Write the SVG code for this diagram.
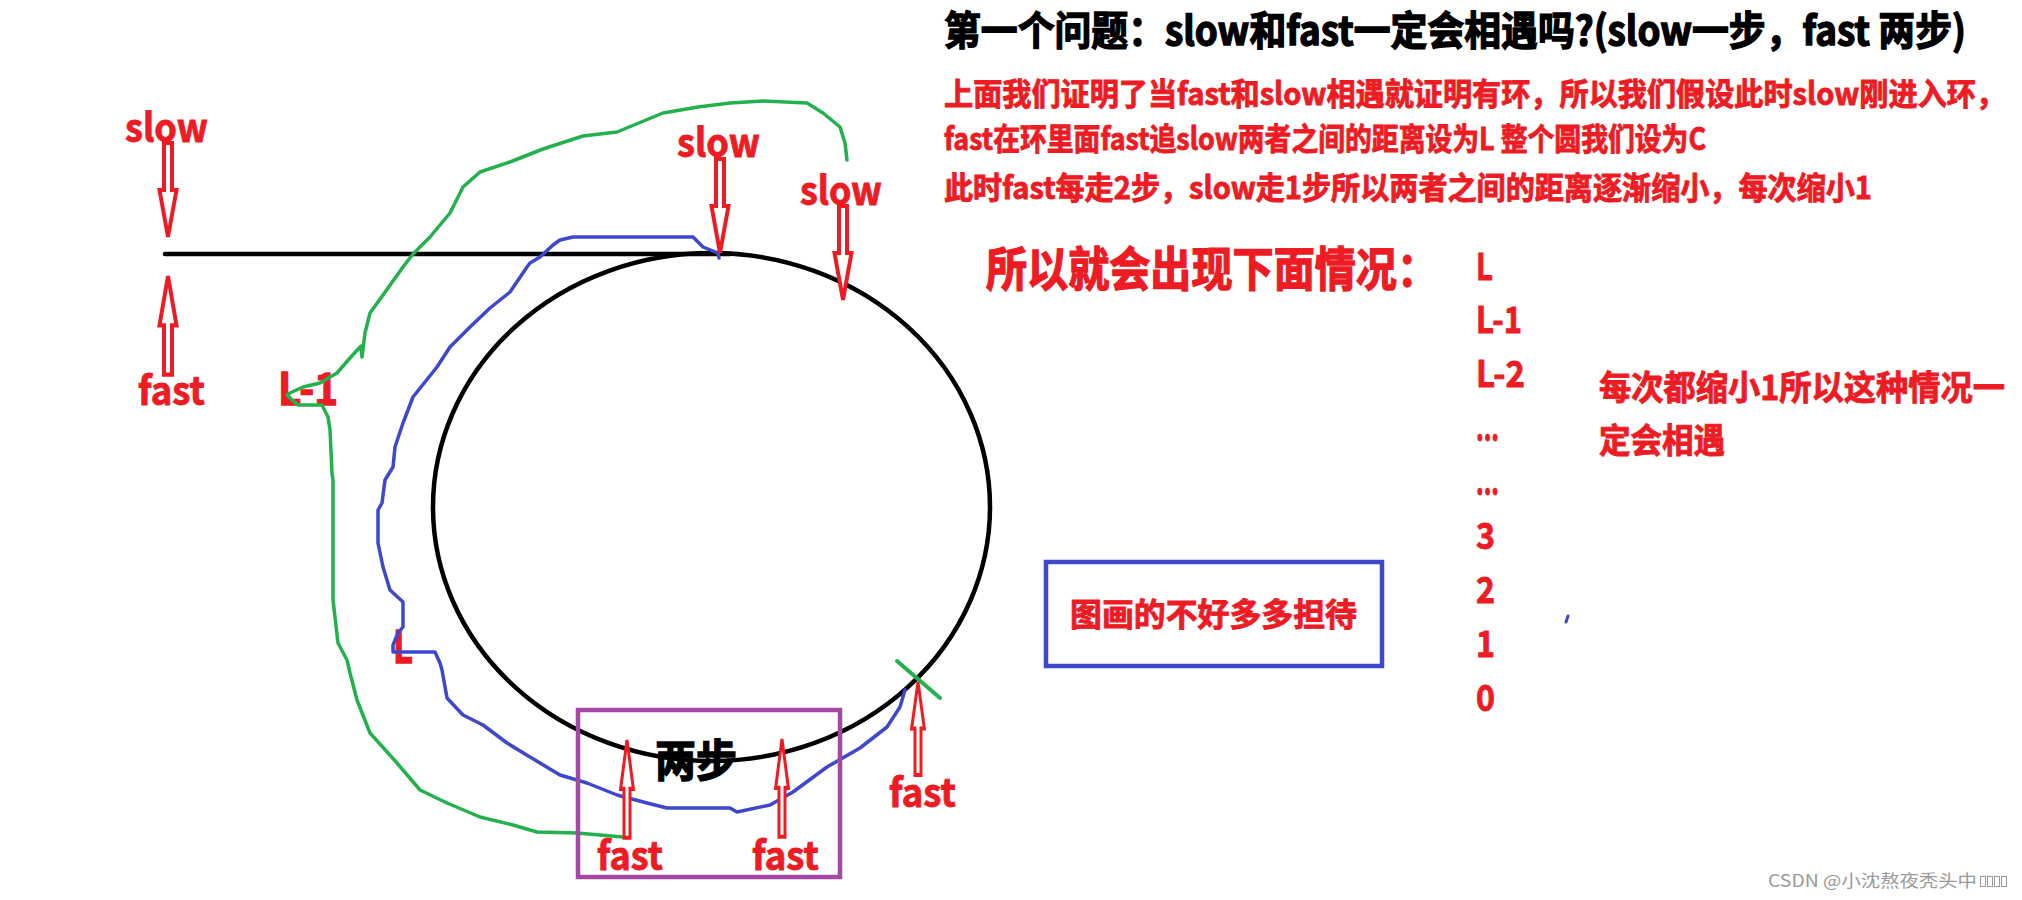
<svg xmlns="http://www.w3.org/2000/svg" width="2022" height="900" viewBox="0 0 2022 900">
<style>
  text { font-family: "Noto Sans CJK SC", "Noto Sans", sans-serif; font-weight: bold; }
  .red { fill: #ed1c24; stroke: #ed1c24; stroke-width: 0.9; }
  .blk { fill: #000000; stroke: #000000; stroke-width: 0.9; }
  .big { stroke-width: 1.4; }
  .arrow { fill: #ffffff; stroke: #ed1c24; stroke-width: 4; stroke-linejoin: miter; }
  .green { fill: none; stroke: #22b14c; stroke-width: 3.5; stroke-linejoin: round; stroke-linecap: round; }
  .blue { fill: none; stroke: #3f48cc; stroke-width: 3.5; stroke-linejoin: round; stroke-linecap: round; }
</style>
<defs>
  <path id="arr" d="M-4,-94 H4 V-47 H8.5 L0,0 L-8.5,-47 H-4 Z"/>
</defs>
<rect width="2022" height="900" fill="#ffffff"/>

<g id="ring">
  <ellipse cx="711.5" cy="507" rx="278.5" ry="254" fill="none" stroke="#000" stroke-width="4.5"/>
  <line x1="165" y1="254" x2="730" y2="254" stroke="#000" stroke-width="4.5" stroke-linecap="round"/>
</g>

<g id="labels-left">
  <text class="red" x="125" y="142" font-size="39" textLength="83" lengthAdjust="spacingAndGlyphs">slow</text>
  <text class="red" x="138" y="405" font-size="39" textLength="67" lengthAdjust="spacingAndGlyphs">fast</text>
  <text class="red big" x="278" y="405" font-size="44" textLength="60" lengthAdjust="spacingAndGlyphs">L-1</text>
  <text class="red big" x="393" y="663" font-size="44" textLength="20" lengthAdjust="spacingAndGlyphs">L</text>
  <text class="red" x="677" y="157" font-size="39" textLength="83" lengthAdjust="spacingAndGlyphs">slow</text>
  <text class="red" x="800" y="205" font-size="39" textLength="82" lengthAdjust="spacingAndGlyphs">slow</text>
  <text class="red" x="597" y="870" font-size="39" textLength="66" lengthAdjust="spacingAndGlyphs">fast</text>
  <text class="red" x="752" y="870" font-size="39" textLength="67" lengthAdjust="spacingAndGlyphs">fast</text>
  <text class="red" x="889" y="807" font-size="39" textLength="67" lengthAdjust="spacingAndGlyphs">fast</text>
  <text class="blk big" x="655" y="777" font-size="44" textLength="82" lengthAdjust="spacingAndGlyphs">两步</text>
</g>

<g id="connectors">
  <path id="green-path" class="green" d="M847,160 L845,143 L840,127 L823,113 L807,103 L763,101 L730,103 L698,107 L663,113 L617,132 L583,136 L543,149 L510,162 L480,172 L463,187 L450,213 L430,237 L413,254 L403,267 L383,295 L370,313 L365,333 L362,357 L361,346 L350,358 L337,373 L320,383 L303,387 L290,393 L287,395 L292,400 L298,405 L322,405 L328,417 L330,430 L332,473 L333,480 L333,600 L335,617 L338,643 L347,660 L350,673 L357,700 L370,733 L397,763 L420,790 L447,803 L480,817 L513,825 L537,832 L577,833 L623,837"/>
  <path id="blue-path" class="blue" d="M719,258 L718,253 L703,247 L693,237 L573,237 L560,240 L553,245 L540,257 L530,263 L527,267 L510,292 L490,308 L470,327 L450,347 L437,367 L413,397 L403,423 L395,447 L393,467 L385,480 L382,503 L378,510 L378,543 L383,567 L390,590 L403,602 L403,627 L398,633 L393,645 L393,652 L407,652 L435,652 L440,663 L442,670 L447,698 L463,715 L483,725 L507,743 L530,757 L560,775 L587,783 L617,795 L647,803 L667,808 L730,808 L737,812 L770,805 L793,792 L827,767 L860,748 L887,727 L900,707 L905,690"/>
  <line id="green-mark" x1="897" y1="661" x2="940" y2="698" stroke="#22b14c" stroke-width="4" stroke-linecap="round"/>
  <path id="blue-dot" d="M1566,622 L1568,616" stroke="#3f48cc" stroke-width="3" stroke-linecap="round"/>
</g>

<g id="arrows">
  <use href="#arr" class="arrow" transform="translate(168,237)"/>
  <use href="#arr" class="arrow" transform="translate(720,253)"/>
  <use href="#arr" class="arrow" transform="translate(843,300)"/>
  <use href="#arr" class="arrow" transform="translate(168,276) scale(1,-1.05)" vector-effect="non-scaling-stroke"/>
  <use href="#arr" class="arrow" transform="translate(627,740) scale(0.75,-1.04)" vector-effect="non-scaling-stroke"/>
  <use href="#arr" class="arrow" transform="translate(782,739) scale(0.75,-1.04)" vector-effect="non-scaling-stroke"/>
  <use href="#arr" class="arrow" transform="translate(918,682) scale(0.75,-0.99)" vector-effect="non-scaling-stroke"/>
</g>

<g id="two-steps-box">
  <rect x="578" y="710" width="262" height="167" fill="none" stroke="#a349a4" stroke-width="4.5"/>
</g>

<g id="explanation">
  <text class="blk big" transform="translate(944,45) scale(0.924,1)" x="0" y="0" font-size="40" textLength="1106" lengthAdjust="spacingAndGlyphs">第一个问题：slow和fast一定会相遇吗?(slow一步，fast 两步)</text>
  <text class="red" transform="translate(944,105) scale(0.944,1)" x="0" y="0" font-size="31" textLength="1124" lengthAdjust="spacingAndGlyphs">上面我们证明了当fast和slow相遇就证明有环，所以我们假设此时slow刚进入环，</text>
  <text class="red" x="944" y="150" font-size="31" textLength="762" lengthAdjust="spacingAndGlyphs">fast在环里面fast追slow两者之间的距离设为L 整个圆我们设为C</text>
  <text class="red" x="944" y="199" font-size="31" textLength="928" lengthAdjust="spacingAndGlyphs">此时fast每走2步，slow走1步所以两者之间的距离逐渐缩小，每次缩小1</text>
</g>

<g id="cases">
  <text class="red big" transform="translate(986,286) scale(0.875,1)" x="0" y="0" font-size="47" textLength="516.6" lengthAdjust="spacingAndGlyphs">所以就会出现下面情况：</text>
  <text class="red" x="1476" y="280" font-size="36" textLength="17" lengthAdjust="spacingAndGlyphs">L</text>
  <text class="red" x="1476" y="333" font-size="36" textLength="46" lengthAdjust="spacingAndGlyphs">L-1</text>
  <text class="red" x="1476" y="387" font-size="36" textLength="49" lengthAdjust="spacingAndGlyphs">L-2</text>
  <text class="red" x="1476" y="441" font-size="36" textLength="23" lengthAdjust="spacingAndGlyphs">...</text>
  <text class="red" x="1476" y="495" font-size="36" textLength="23" lengthAdjust="spacingAndGlyphs">...</text>
  <text class="red" x="1476" y="549" font-size="36" textLength="19" lengthAdjust="spacingAndGlyphs">3</text>
  <text class="red" x="1476" y="603" font-size="36" textLength="19" lengthAdjust="spacingAndGlyphs">2</text>
  <text class="red" x="1476" y="657" font-size="36" textLength="19" lengthAdjust="spacingAndGlyphs">1</text>
  <text class="red" x="1476" y="711" font-size="36" textLength="19" lengthAdjust="spacingAndGlyphs">0</text>
  <text class="red" transform="translate(1599,400) scale(0.951,1)" x="0" y="0" font-size="34" textLength="427" lengthAdjust="spacingAndGlyphs">每次都缩小1所以这种情况一</text>
  <text class="red" x="1599" y="453" font-size="34" textLength="126" lengthAdjust="spacingAndGlyphs">定会相遇</text>
</g>

<g id="apology-box">
  <rect x="1046" y="562" width="336" height="104" fill="none" stroke="#3f48cc" stroke-width="4.5"/>
  <text class="red" x="1070" y="626" font-size="32" textLength="287" lengthAdjust="spacingAndGlyphs">图画的不好多多担待</text>
</g>

<g id="watermark">
  <text x="1768" y="887" font-size="17" style="font-weight:normal" fill="#9a9a9a" textLength="209" lengthAdjust="spacingAndGlyphs">CSDN @小沈熬夜秃头中</text>
  <g fill="none" stroke="#9a9a9a" stroke-width="1">
    <rect x="1980.5" y="876.5" width="5" height="10"/>
    <rect x="1987.5" y="876.5" width="5" height="10"/>
    <rect x="1994.5" y="876.5" width="5" height="10"/>
    <rect x="2001.5" y="876.5" width="5" height="10"/>
  </g>
</g>
</svg>
